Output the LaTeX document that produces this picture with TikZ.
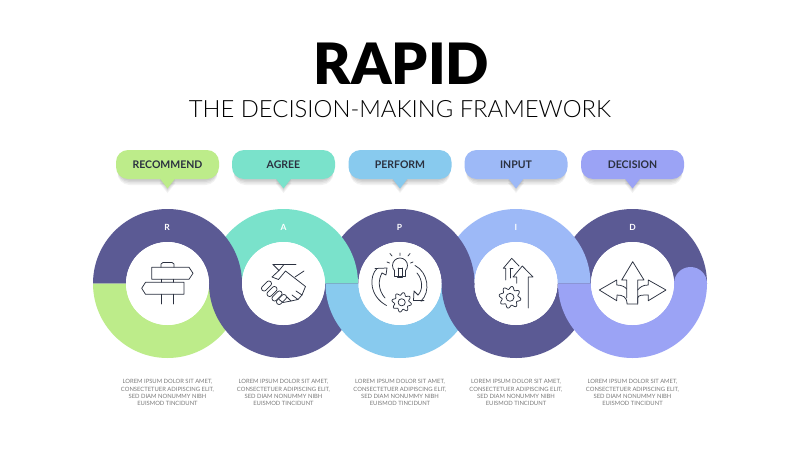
\documentclass[tikz,border=0pt]{standalone}
\usepackage{fontspec}
\setmainfont{Lato}
\newfontfamily\titlefont{Lato Black}
\newfontfamily\subfont{Lato Light}
\usetikzlibrary{calc}
\definecolor{dk}{HTML}{5B5A94}
\definecolor{cR}{HTML}{BDEC8A}
\definecolor{cA}{HTML}{7AE2CB}
\definecolor{cP}{HTML}{88CAEE}
\definecolor{cI}{HTML}{9DB9F7}
\definecolor{cD}{HTML}{9BA3F5}
\definecolor{ink}{HTML}{2B3140}
\tikzset{
  bubble/.style={rectangle,rounded corners=12pt,minimum width=103pt,minimum height=29pt,inner sep=0pt,text=ink,font=\fontsize{10.5}{12}\selectfont\bfseries},
  letter/.style={text=white,inner sep=0pt,font=\fontsize{8.5}{9}\selectfont\bfseries},
  lorem/.style={align=center,inner sep=0pt,text=black!52,font=\fontsize{5.85}{7.1}\selectfont},
  icon/.style={draw=ink,line width=.75pt,line join=round,line cap=round,fill=none},
  hub/.style={circle,fill=white,minimum size=83pt,inner sep=0pt}
}
\newcommand{\ringtop}[2]{\fill[#2] (#1-74.5,283.5) arc (180:360:74.5) -- (#1+41.5,283.5) arc (360:180:41.5) -- cycle;}
\newcommand{\ringbot}[2]{\fill[#2] (#1-74.5,283.5) arc (180:0:74.5) -- (#1+41.5,283.5) arc (0:180:41.5) -- cycle;}
\newcommand{\bub}[4]{%
  \foreach \s/\o in {7/.05,5.5/.05,4/.06,2.5/.06}{
    \fill[black,opacity=\o,rounded corners=12pt] (#1-50,150+\s) rectangle (#1+50,179+\s-1);
    \fill[black,opacity=\o] (#1-8,177+\s-1) -- (#1,187+\s-1) -- (#1+8,177+\s-1) -- cycle;
  }
  \fill[#3] (#1-8,178) -- (#1,188.5) -- (#1+8,178) -- cycle;
  \node[bubble,fill=#3] (#2) at (#1+.0,164.5) {#4};
}
\newcommand{\gear}[3]{%
  \draw[icon] plot[domain=0:360,samples=121,smooth] ({#1+(#3+.16*#3*sin(8*\x))*cos(\x)},{#2+(#3+.16*#3*sin(8*\x))*sin(\x)}) -- cycle;
  \draw[icon] (#1,#2) circle[radius=.42*#3];
}
\newcommand{\loremtxt}{LOREM IPSUM DOLOR SIT AMET,\\CONSECTETUER ADIPISCING ELIT,\\SED DIAM NONUMMY NIBH\\EUISMOD TINCIDUNT}
\begin{document}
\begin{tikzpicture}[x=1pt,y=-1pt]
\useasboundingbox[fill=white] (0,0) rectangle (800,450);
\node[inner sep=0pt,font=\fontsize{57}{60}\titlefont,text=black] (title) at (401.5,63.5) {RAPID};
\node[inner sep=0pt,font=\fontsize{23.8}{26}\subfont,text=black] (subtitle) at (400,109) {THE DECISION-MAKING FRAMEWORK};
\bub{167.5}{bR}{cR}{RECOMMEND}
\bub{283.5}{bA}{cA}{AGREE}
\bub{400}{bP}{cP}{PERFORM}
\bub{516}{bI}{cI}{INPUT}
\bub{632.5}{bD}{cD}{DECISION}
% top halves, rightmost first
\ringtop{632.5}{dk}
\ringtop{516}{cI}
\ringtop{400}{dk}
\ringtop{283.5}{cA}
\ringtop{167.5}{dk}
% bottom halves
\ringbot{167.5}{cR}
\ringbot{283.5}{dk}
\ringbot{400}{cP}
\ringbot{516}{dk}
\ringbot{632.5}{cD}
\fill[dk] (209,282.5) rectangle (242,284.5);
\fill[dk] (441.5,282.5) rectangle (474.5,284.5);
\fill[cD] (690.5,283.5) circle[radius=16.5];
\foreach \c/\n in {167.5/hR,283.5/hA,400/hP,516/hI,632.5/hD}{
  \node[hub] (\n) at (\c,283.5) {};
}
\node[letter] (lR) at (167,227) {R};
\node[letter] (lA) at (283.5,227) {A};
\node[letter] (lP) at (399.5,227) {P};
\node[letter] (lI) at (516,227) {I};
\node[letter] (lD) at (632.5,227) {D};
\foreach \c/\n in {167.5/tR,283.5/tA,400/tP,516/tI,632.5/tD}{
  \node[lorem] (\n) at (\c,392.5) {\loremtxt};
}
% signpost
\draw[icon] (161,267.3) -- (161,264) -- (163,262.5) -- (172,262.5) -- (174,264) -- (174,267.3);
\draw[icon] (151.7,267.3) -- (189,267.3) -- (193,273.3) -- (189,279.3) -- (151.7,279.3) -- cycle;
\draw[icon] (145.5,282.3) -- (184,282.3) -- (184,294.3) -- (145.5,294.3) -- (141.7,288.3) -- cycle;
\draw[icon] (161,279.3) -- (161,282.3) (173.3,279.3) -- (173.3,282.3);
\draw[icon] (161,294.3) -- (161,304) (173.3,294.3) -- (173.3,304);
% handshake
\draw[icon] (273,264.5) -- (296,264.5);
\draw[icon] (273,264.5) -- (279,270.5) -- (272,277) -- (278.5,279.5) -- (285.5,271) -- (305.5,286.5) -- (302,295);
\draw[icon] (302,295) -- (296,291) (302,295) -- (298,299.5) -- (292,295) (298,299.5) -- (291,301) -- (287,297);
\draw[icon] (291,301) -- (283,302.5) -- (279,299.5);
\draw[icon] (279,270.5) -- (284,264.5);
\draw[icon] (295,277) -- (304,271);
\foreach \px/\py in {266.5/286,272/291.5,277/296,281.5/299.5}{
  \draw[icon,rounded corners=2.4pt,rotate around={45:(\px,\py)}] (\px-6,\py-2.6) rectangle (\px+6,\py+2.6);
}
% cycle with bulb and gear
\draw[icon] (394.7,270.8) arc (135:405:7.5);
\draw[icon] (394.7,270.8) -- (394.7,276.5) -- (405.3,276.5) -- (405.3,270.8);
\draw[icon] (397.5,277.8) -- (402.5,277.8) (398,268) -- (398,276) (402,268) -- (402,276) (398,268) -- (402,268);
\draw[icon] (392,256) -- (390,253.5) (408,256) -- (410,253.5) (400,253) -- (400,255.5) (389.5,263) -- (387,262) (410.5,263) -- (413,262);
\draw[icon] (386.5,305.5) .. controls (369,296) and (369,276) .. (377,268.5);
\draw[icon] (385,298) .. controls (378,290) and (378,280) .. (382,273);
\draw[icon] (375,268.5) -- (387,268) -- (386,275) -- (382,273) (377,268.5) -- (375,268.5);
\draw[icon] (415,265.5) .. controls (428,272) and (431,292) .. (421,301);
\draw[icon] (417,273) .. controls (423,280) and (423,290) .. (418,295);
\draw[icon] (414,291) -- (418,295) (414,291) -- (413.5,300.5) -- (424,300.5) -- (421,301);
\gear{401.7}{302.3}{8.5}
% arrows and gear
\draw[icon] (528.3,308) -- (528.3,277) -- (533,277) -- (522.3,266) -- (513,277) -- (516.7,277) -- (516.7,283.3);
\draw[icon] (505.7,280) -- (505.7,268.3) -- (503.3,268.3) -- (511.7,258.3) -- (519,266);
\draw[icon] (510,268.3) -- (510,278) (510,268.3) -- (513,268.3);
\gear{510}{297.3}{9.5}
% three-way arrows
\draw[icon] (626.7,298) -- (626.7,280) -- (621.7,280) -- (632.7,261.7) -- (644,280) -- (637.7,280) -- (637.7,304);
\draw[icon] (637.7,304) -- (627,304) .. controls (627,297) and (623,295) .. (617,295) -- (616.7,300.7) -- (599.3,290) -- (616.7,280) -- (616.7,285) .. controls (622,285) and (625,287) .. (626.7,289);
\draw[icon] (637.7,303) -- (637.7,298) .. controls (638,295) and (642,295) .. (648.3,295) -- (648.3,300.7) -- (666,290) -- (648.3,280) -- (648.3,285) .. controls (643,285) and (640,287) .. (637.7,290);
\end{tikzpicture}
\end{document}
